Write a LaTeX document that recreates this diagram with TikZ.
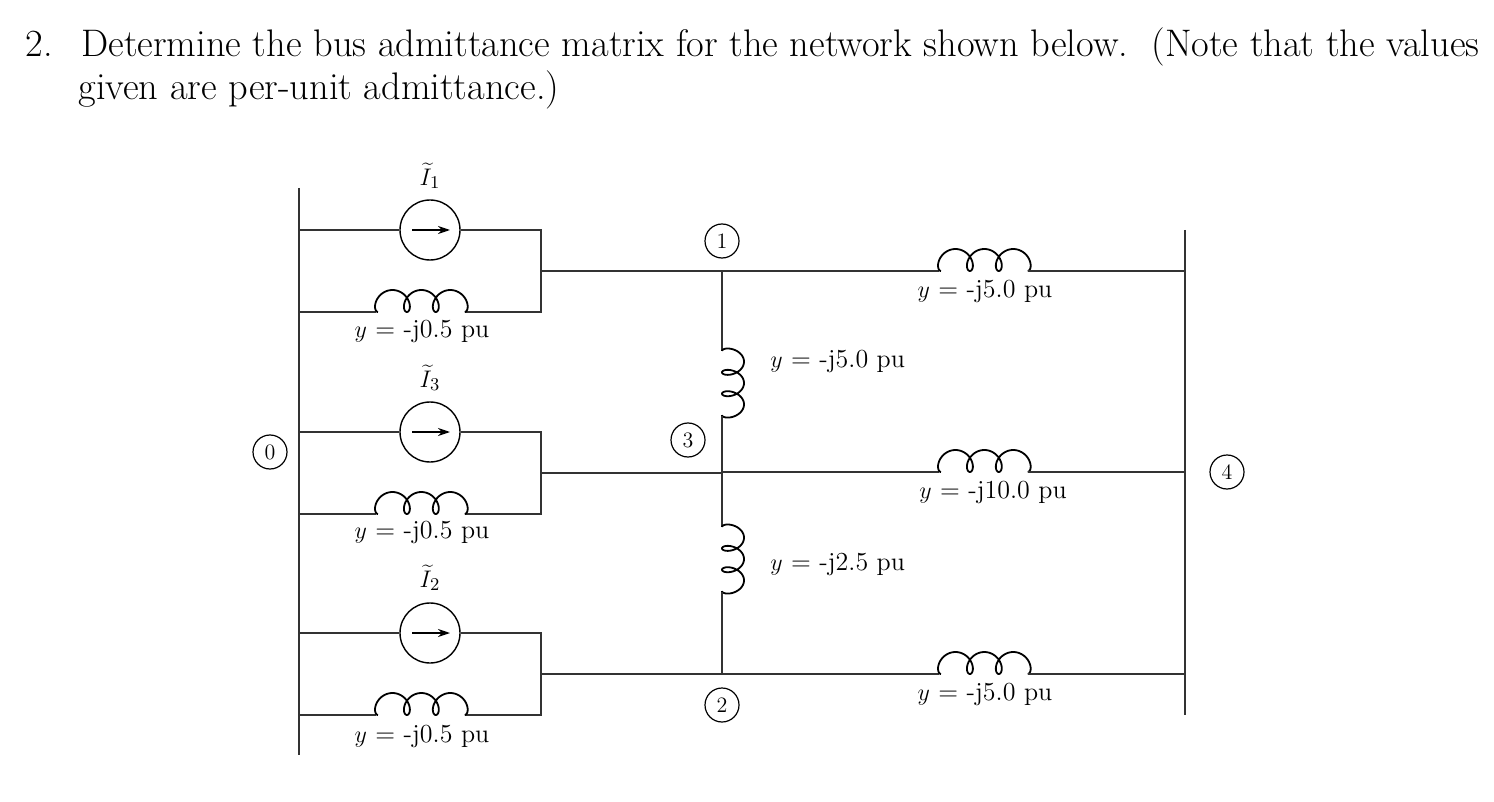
\documentclass[tikz,border=0pt]{standalone}
\usetikzlibrary{arrows.meta}
\begin{document}
\begin{tikzpicture}[x=0.5pt,y=-0.5pt,
  w/.style={line width=0.7pt,black!80},
  cl/.style={line width=0.9pt},
  src/.style={circle,draw,line width=0.7pt,minimum size=30pt,inner sep=0pt},
  bn/.style={circle,draw,line width=0.6pt,minimum size=17pt,inner sep=0pt,font=\fontsize{11}{11}\selectfont},
  lab/.style={font=\fontsize{13}{15}\selectfont,inner sep=0pt}]
\useasboundingbox (0,0) rectangle (1494,802);
\newcommand{\hcoil}[2]{\draw[cl] plot[smooth,domain=0:18.85,samples=150] ({#1+4.6*\x-9*sin(\x r)},{#2-11*(1-cos(\x r))});}
\newcommand{\vcoil}[2]{\draw[cl] plot[smooth,domain=0:18.85,samples=150] ({#1+11*(1-cos(\x r))},{#2+3.4*\x-7*sin(\x r)});}
% title
\node[anchor=base west,inner sep=0pt,font=\fontsize{19.2}{22}\selectfont] (t1) at (25,57) {2.\hspace{0.75em}Determine the bus admittance matrix for the network shown below.\ \ (Note that the values};
\node[anchor=base west,inner sep=0pt,font=\fontsize{19.2}{22}\selectfont] (t2) at (78,100) {given are per-unit admittance.)};
% left bus
\draw[w] (299,188) -- (299,755);
\node[bn] (n0) at (270,452) {0};
% three source/inductor pairs
\foreach \r/\k/\ly/\iy in {230/1/332/176, 432/3/533/378, 633/2/737/578}{
  \node[src] (s\k) at (430,\r) {};
  \draw[-{Stealth[length=6pt,width=4pt]},line width=0.7pt] (412,\r) -- (450,\r);
  \draw[w] (299,\r) -- (s\k.west);
  \draw[w] (s\k.east) -- (541,\r) -- (541,\r+82) -- (465,\r+82);
  \draw[w] (299,\r+82) -- (376,\r+82);
  \hcoil{378}{\r+82}
  \draw[w] (541,\r+41) -- (722,\r+41);
  \node[lab] at (422,\ly) {$y$ = -j0.5 pu};
  \node[lab] at (430,\iy) {$\widetilde{I}_{\k}$};
}
% middle horizontal lines to right bus
\foreach \yy/\lb/\lx in {271/-j5.0/985, 472/-j10.0/993, 674/-j5.0/985}{
  \draw[w] (722,\yy) -- (939,\yy);
  \hcoil{941}{\yy}
  \draw[w] (1028,\yy) -- (1185,\yy);
  \node[lab] at (\lx,\yy+21) {$y$ = \lb\ pu};
}
\draw[w] (1185,230) -- (1185,715);
% vertical branch
\draw[w] (722,271) -- (722,351);
\vcoil{722}{351}
\draw[w] (722,416) -- (722,527);
\vcoil{722}{527}
\draw[w] (722,592) -- (722,674);
\node[lab,anchor=west] at (770,362) {$y$ = -j5.0 pu};
\node[lab,anchor=west] at (770,565) {$y$ = -j2.5 pu};
\node[bn] (n1) at (722,241) {1};
\node[bn] (n3) at (688,440) {3};
\node[bn] (n2) at (722,705) {2};
\node[bn] (n4) at (1227,472) {4};
\end{tikzpicture}
\end{document}
